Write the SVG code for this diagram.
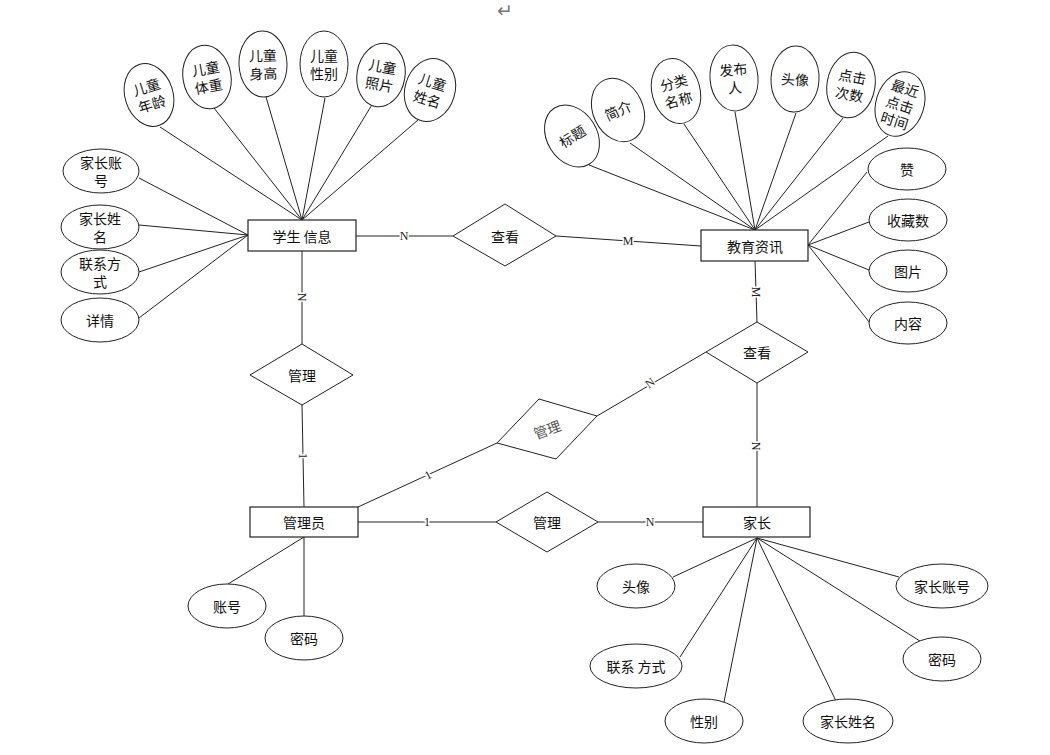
<svg xmlns="http://www.w3.org/2000/svg" width="1050" height="755" viewBox="0 0 1050 755">
<style>
  .ent{fill:#fff;stroke:#222;stroke-width:1.2}
  .att{fill:#fff;stroke:#222;stroke-width:1}
  .rel{fill:#fff;stroke:#222;stroke-width:1}
  .t{font-family:"Noto Sans CJK SC","Noto Sans",sans-serif;font-size:14px;fill:#111;text-anchor:middle;dominant-baseline:central}
  .lbl{font-family:"Liberation Serif",serif;font-size:12px;fill:#222;text-anchor:middle;dominant-baseline:central;stroke:#fff;stroke-width:3;paint-order:stroke}
  #connectors line{stroke:#222;stroke-width:1}
</style>
<rect width="1050" height="755" fill="#fff"/>
<text x="505" y="10" style="font-family:'DejaVu Sans',sans-serif;font-size:19px;fill:#777;text-anchor:middle;dominant-baseline:central">↵</text>

<g id="connectors">
  <line x1="302" y1="220" x2="160" y2="127"/>
  <line x1="302" y1="220" x2="214" y2="108"/>
  <line x1="302" y1="220" x2="266" y2="97"/>
  <line x1="302" y1="220" x2="325" y2="98"/>
  <line x1="302" y1="220" x2="373" y2="103"/>
  <line x1="302" y1="220" x2="418" y2="120"/>
  <line x1="248" y1="235" x2="139" y2="178"/>
  <line x1="248" y1="235" x2="139" y2="225"/>
  <line x1="248" y1="235" x2="139" y2="272"/>
  <line x1="248" y1="235" x2="139" y2="318"/>
  <line x1="356" y1="236" x2="453" y2="236"/>
  <line x1="556" y1="236" x2="701" y2="246"/>
  <line x1="302" y1="251" x2="302" y2="344"/>
  <line x1="302" y1="405" x2="304" y2="507"/>
  <line x1="755" y1="230" x2="589" y2="165"/>
  <line x1="755" y1="230" x2="630" y2="143"/>
  <line x1="755" y1="230" x2="684" y2="124"/>
  <line x1="755" y1="230" x2="735" y2="112"/>
  <line x1="755" y1="230" x2="796" y2="113"/>
  <line x1="755" y1="230" x2="843" y2="118"/>
  <line x1="755" y1="230" x2="888" y2="136"/>
  <line x1="808" y1="245" x2="867" y2="172"/>
  <line x1="808" y1="245" x2="869" y2="222"/>
  <line x1="808" y1="245" x2="869" y2="270"/>
  <line x1="808" y1="245" x2="870" y2="323"/>
  <line x1="755" y1="261" x2="757" y2="322"/>
  <line x1="757" y1="383" x2="757" y2="507"/>
  <line x1="706" y1="352" x2="597" y2="416"/>
  <line x1="497" y1="443" x2="358" y2="507"/>
  <line x1="358" y1="522" x2="496" y2="522"/>
  <line x1="598" y1="522" x2="703" y2="522"/>
  <line x1="304" y1="537" x2="228" y2="584"/>
  <line x1="304" y1="537" x2="304" y2="617"/>
  <line x1="757" y1="538" x2="673" y2="577"/>
  <line x1="757" y1="538" x2="680" y2="657"/>
  <line x1="757" y1="538" x2="724" y2="702"/>
  <line x1="757" y1="538" x2="836" y2="701"/>
  <line x1="757" y1="538" x2="923" y2="643"/>
  <line x1="757" y1="538" x2="899" y2="577"/>
  <text class="lbl" x="404" y="236">N</text>
  <text class="lbl" x="628" y="241">M</text>
  <text class="lbl" transform="translate(302,297) rotate(90)">N</text>
  <text class="lbl" transform="translate(303,456) rotate(90)">1</text>
  <text class="lbl" transform="translate(756,292) rotate(90)">M</text>
  <text class="lbl" transform="translate(756,446) rotate(90)">N</text>
  <text class="lbl" transform="translate(650,383) rotate(-35)">N</text>
  <text class="lbl" transform="translate(428,475) rotate(-28)">1</text>
  <text class="lbl" x="427" y="522">1</text>
  <text class="lbl" x="650" y="522">N</text>
</g>

<!-- entities -->
<g id="student"><rect class="ent" x="248" y="220" width="108" height="31"/><text class="t" x="302" y="236">学生 信息</text></g>
<g id="edu"><rect class="ent" x="701" y="230" width="107" height="31"/><text class="t" x="755" y="246">教育资讯</text></g>
<g id="admin"><rect class="ent" x="250" y="507" width="108" height="30"/><text class="t" x="304" y="522">管理员</text></g>
<g id="parent"><rect class="ent" x="703" y="507" width="107" height="30"/><text class="t" x="757" y="522">家长</text></g>

<!-- relationships -->
<g id="rel-view1"><polygon class="rel" points="453,236 505,204 556,236 505,266"/><text class="t" x="505" y="236">查看</text></g>
<g id="rel-manage1"><polygon class="rel" points="250,375 302,344 353,375 302,405"/><text class="t" x="302" y="375">管理</text></g>
<g id="rel-view2"><polygon class="rel" points="706,352 757,322 808,352 757,383"/><text class="t" x="757" y="352">查看</text></g>
<g id="rel-manage2"><polygon class="rel" points="539,399 597,416 556,459 497,443"/><text class="t" transform="translate(547,429) rotate(-20)" style="fill:#555">管理</text></g>
<g id="rel-manage3"><polygon class="rel" points="496,522 547,492 598,522 547,552"/><text class="t" x="547" y="522">管理</text></g>

<!-- student attributes -->
<g id="a-age" transform="translate(149,95) rotate(-18)"><ellipse class="att" rx="24" ry="32"/><text class="t" y="-9">儿童</text><text class="t" y="9">年龄</text></g>
<g id="a-weight" transform="translate(207,77) rotate(-10)"><ellipse class="att" rx="24" ry="32"/><text class="t" y="-9">儿童</text><text class="t" y="9">体重</text></g>
<g id="a-height" transform="translate(263,64) rotate(-2)"><ellipse class="att" rx="24" ry="33"/><text class="t" y="-9">儿童</text><text class="t" y="9">身高</text></g>
<g id="a-gender" transform="translate(324,64) rotate(0)"><ellipse class="att" rx="24" ry="33"/><text class="t" y="-9">儿童</text><text class="t" y="9">性别</text></g>
<g id="a-photo" transform="translate(381,75) rotate(10)"><ellipse class="att" rx="24" ry="32"/><text class="t" y="-9">儿童</text><text class="t" y="9">照片</text></g>
<g id="a-cname" transform="translate(430,90) rotate(17)"><ellipse class="att" rx="25" ry="32"/><text class="t" y="-9">儿童</text><text class="t" y="9">姓名</text></g>
<g id="a-pacc"><ellipse class="att" cx="101" cy="171" rx="38" ry="22"/><text class="t" x="101" y="162">家长账</text><text class="t" x="101" y="180">号</text></g>
<g id="a-pname"><ellipse class="att" cx="100" cy="227" rx="39" ry="22"/><text class="t" x="100" y="218">家长姓</text><text class="t" x="100" y="236">名</text></g>
<g id="a-contact"><ellipse class="att" cx="100" cy="272" rx="39" ry="22"/><text class="t" x="100" y="263">联系方</text><text class="t" x="100" y="281">式</text></g>
<g id="a-detail"><ellipse class="att" cx="100" cy="320" rx="39" ry="22"/><text class="t" x="100" y="320">详情</text></g>

<!-- edu attributes -->
<g id="e-title" transform="translate(572,136) rotate(-32)"><ellipse class="att" rx="25" ry="33"/><text class="t">标题</text></g>
<g id="e-intro" transform="translate(618,110) rotate(-25)"><ellipse class="att" rx="25" ry="33"/><text class="t">简介</text></g>
<g id="e-cat" transform="translate(676,91) rotate(-15)"><ellipse class="att" rx="24" ry="33"/><text class="t" y="-9">分类</text><text class="t" y="9">名称</text></g>
<g id="e-pub" transform="translate(734,78) rotate(-5)"><ellipse class="att" rx="24" ry="33"/><text class="t" y="-9">发布</text><text class="t" y="9">人</text></g>
<g id="e-avatar" transform="translate(795,79) rotate(3)"><ellipse class="att" rx="24" ry="33"/><text class="t">头像</text></g>
<g id="e-clicks" transform="translate(851,85) rotate(10)"><ellipse class="att" rx="24" ry="33"/><text class="t" y="-9">点击</text><text class="t" y="9">次数</text></g>
<g id="e-last" transform="translate(900,104) rotate(18)"><ellipse class="att" rx="24" ry="33"/><text class="t" y="-17">最近</text><text class="t" y="0">点击</text><text class="t" y="17">时间</text></g>
<g id="e-like"><ellipse class="att" cx="907" cy="169" rx="39" ry="21"/><text class="t" x="907" y="169">赞</text></g>
<g id="e-fav"><ellipse class="att" cx="908" cy="220" rx="39" ry="21"/><text class="t" x="908" y="220">收藏数</text></g>
<g id="e-pic"><ellipse class="att" cx="908" cy="271" rx="39" ry="21"/><text class="t" x="908" y="271">图片</text></g>
<g id="e-content"><ellipse class="att" cx="908" cy="323" rx="39" ry="21"/><text class="t" x="908" y="323">内容</text></g>

<!-- admin attributes -->
<g id="ad-acc"><ellipse class="att" cx="227" cy="606" rx="39" ry="22"/><text class="t" x="227" y="606">账号</text></g>
<g id="ad-pwd"><ellipse class="att" cx="304" cy="638" rx="39" ry="22"/><text class="t" x="304" y="638">密码</text></g>

<!-- parent attributes -->
<g id="p-avatar"><ellipse class="att" cx="636" cy="586" rx="39" ry="22"/><text class="t" x="636" y="586">头像</text></g>
<g id="p-contact"><ellipse class="att" cx="636" cy="666" rx="46" ry="22"/><text class="t" x="636" y="666">联系 方式</text></g>
<g id="p-gender"><ellipse class="att" cx="704" cy="721" rx="39" ry="22"/><text class="t" x="704" y="721">性别</text></g>
<g id="p-name"><ellipse class="att" cx="848" cy="721" rx="45" ry="22"/><text class="t" x="848" y="721">家长姓名</text></g>
<g id="p-pwd"><ellipse class="att" cx="942" cy="659" rx="39" ry="22"/><text class="t" x="942" y="659">密码</text></g>
<g id="p-acc"><ellipse class="att" cx="942" cy="586" rx="46" ry="22"/><text class="t" x="942" y="586">家长账号</text></g>
</svg>
